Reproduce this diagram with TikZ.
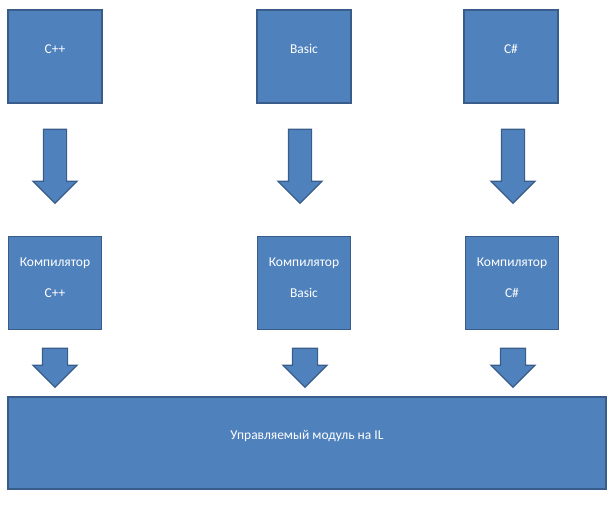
\documentclass[tikz,border=0pt]{standalone}
\usepackage{fontspec}
\setmainfont{Carlito}
\usetikzlibrary{shapes.arrows}
\definecolor{boxfill}{HTML}{4F81BD}
\definecolor{boxline}{HTML}{385D8A}

\begin{document}
\begin{tikzpicture}
    [x=1pt,y=-1pt,
     block/.style={rectangle,draw=boxline,fill=boxfill,line width=1.5pt,text=white,
       font=\fontsize{13.5}{31}\selectfont,align=center,inner sep=0pt},
     lang/.style={block,minimum width=94pt,minimum height=93pt,text height=9pt,text depth=15pt},
     comp/.style={block,minimum width=93pt,minimum height=93pt,text depth=11pt},
     module/.style={block,minimum width=598pt,minimum height=92pt,text height=9pt,text depth=17pt},
     bigarrow/.style={single arrow,draw=boxline,fill=boxfill,line width=1.2pt,rotate=-90,
       inner sep=0pt,inner ysep=11pt,minimum width=0pt,single arrow head extend=10.5pt,
       minimum height=74pt},
     smallarrow/.style={bigarrow,inner ysep=12pt,single arrow head extend=9.5pt,
       minimum height=39pt}]
    \useasboundingbox (0,0) rectangle (614,505);
    \node (srccpp)   at (55,56.5)  [lang] {C++};
    \node (srcbasic) at (304,56.5) [lang] {Basic};
    \node (srccs)    at (511,56.5) [lang] {C\#};
    \node (arrcpp)   at (55,160.5)  [bigarrow] {};
    \node (arrbasic) at (300,160.5) [bigarrow] {};
    \node (arrcs)    at (513,160.5) [bigarrow] {};
    \node (cmpcpp)   at (55,283)  [comp] {Компилятор\\C++};
    \node (cmpbasic) at (304,283) [comp] {Компилятор\\Basic};
    \node (cmpcs)    at (512,283) [comp] {Компилятор\\C\#};
    \node (outcpp)   at (55,361.5)  [smallarrow] {};
    \node (outbasic) at (305,361.5) [smallarrow] {};
    \node (outcs)    at (513,361.5) [smallarrow] {};
    \node (ilmodule) at (307,443) [module] {Управляемый модуль на IL};
  \end{tikzpicture}
\end{document}
